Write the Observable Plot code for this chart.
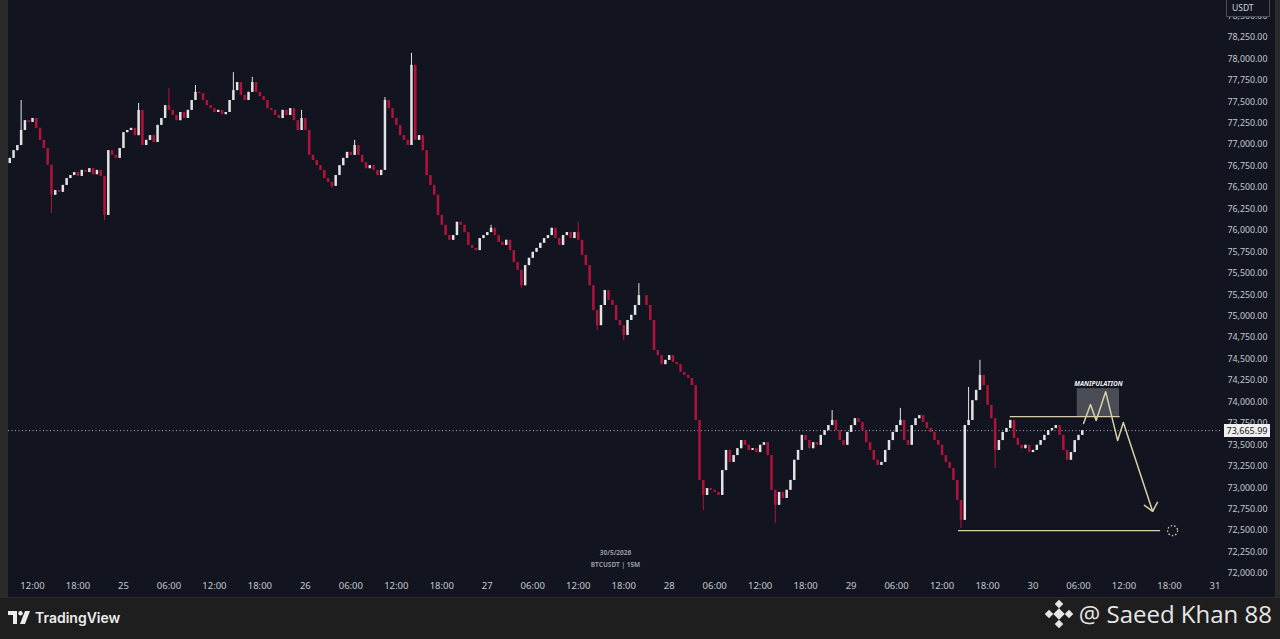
<!DOCTYPE html>
<html>
<head>
<meta charset="utf-8">
<script src="https://cdn.jsdelivr.net/npm/d3@7"></script>
<script src="https://cdn.jsdelivr.net/npm/@observablehq/plot@0.6"></script>
<style>
  html, body { margin: 0; padding: 0; background: #1e1e1e; width: 1280px; height: 639px; overflow: hidden; }
  #frame { position: absolute; left: 0; top: 0; width: 1280px; height: 598px; background: #2a2a2a; }
  #chart { position: absolute; left: 8px; top: 0; width: 1267px; height: 597px; background: #121520; }
  #chart svg { display: block; }
  #usdt { position: absolute; z-index: 2; left: 1226px; top: -1px; width: 44px; height: 18px; border: 1px solid #4a4d55; border-top: none;
          background: #121520; color: #d1d4dc; font: 8.5px "Noto Sans", sans-serif; line-height: 17px; padding-left: 5px; box-sizing: border-box; }
  #last { position: absolute; z-index: 2; left: 1224px; width: 46px; height: 13px; background: #eeeeee; color: #131722;
          font: 9px "Noto Sans", sans-serif; line-height: 13px; text-align: center; }
  #tv { position: absolute; left: 8px; top: 609px; display: flex; align-items: center; gap: 5px;
        color: #ececec; font: 600 14px "Inter", "Noto Sans", sans-serif; }
  #sig { position: absolute; right: 8px; top: 597px; display: flex; align-items: center; gap: 5px;
         color: #e6e6e6; font: 24px "Open Sans", sans-serif; }
</style>
</head>
<body>
<div id="frame"></div>
<div id="chart"></div>
<div id="tv">
  <svg width="22" height="13" viewBox="0 0 22 13"><path d="M0 0H9V13H5V4H0Z" fill="#ececec"/><circle cx="12.5" cy="2.2" r="2.2" fill="#ececec"/><path d="M17 0H22L17 13H12Z" fill="#ececec"/></svg>
  <span>TradingView</span>
</div>
<div id="sig">
  <svg width="30" height="30" viewBox="-15 -15 30 30" fill="#e6e6e6">
    <rect x="-4" y="-4" width="8" height="8" transform="rotate(45)"/>
    <rect x="-3" y="-3" width="6" height="6" transform="translate(0,-10) rotate(45)"/>
    <rect x="-3" y="-3" width="6" height="6" transform="translate(0,10) rotate(45)"/>
    <rect x="-3" y="-3" width="6" height="6" transform="translate(-10,0) rotate(45)"/>
    <rect x="-3" y="-3" width="6" height="6" transform="translate(10,0) rotate(45)"/>
  </svg>
  <span>@ Saeed Khan 88</span>
</div>
<script>
// BTCUSDT, 30-minute closes, from 24 May 09:00 (UTC) on
const firstOpen = 76780
const closes = [
  // 24
  76840, 76930, 76990, 77165, 77280, 77260, 77305, 77190, 77050, 76955,
  76760, 76410, 76465, 76445, 76525, 76605, 76640, 76675, 76630, 76700,
  76675, 76720, 76650, 76700, 76630, 76175, 76930, 76875, 76840, 76955,
  // 25
  77140, 77165, 77190, 77105, 77400, 76990, 77050, 77105, 77025, 77225,
  77305, 77455, 77400, 77340, 77280, 77375, 77305, 77400, 77515, 77610,
  77595, 77515, 77455, 77420, 77375, 77400, 77350, 77375, 77515, 77630,
  77725, 77575, 77515, 77610, 77725, 77610, 77560, 77515, 77420, 77400,
  77340, 77305, 77400, 77340, 77420, 77280, 77165, 77305,
  // 26
  77165, 76875, 76815, 76755, 76700, 76605, 76560, 76515, 76640, 76755,
  76840, 76910, 76875, 76990, 76875, 76790, 76720, 76755, 76700, 76640,
  76700, 77515, 77420, 77305, 77225, 77105, 77050, 76990, 77925, 77050,
  77105, 76930, 76640, 76525, 76410, 76175, 76060, 75940, 75885, 75940,
  76095, 76060, 75975, 75825, 75790, 75765, 75905, 75940,
  // 27
  75975, 76025, 75940, 75860, 75825, 75885, 75765, 75625, 75535, 75355,
  75590, 75675, 75745, 75790, 75850, 75905, 75940, 76025, 75905, 75825,
  75940, 75975, 75905, 75975, 75885, 75710, 75590, 75355, 75065, 74890,
  75125, 75300, 75185, 75125, 74950, 74890, 74775, 74950, 75010, 75125,
  75240, 75240, 75125, 74950, 74600, 74540, 74435, 74485,
  // 28
  74540, 74460, 74435, 74345, 74310, 74275, 74190, 73785, 73085, 72910,
  72990, 72970, 72945, 72910, 73200, 73435, 73295, 73375, 73455, 73550,
  73495, 73435, 73455, 73410, 73495, 73525, 73375, 72970, 72795, 72945,
  72875, 72970, 73085, 73320, 73435, 73610, 73550, 73455, 73525, 73495,
  73610, 73665, 73725, 73785, 73665, 73550, 73495, 73645,
  // 29
  73725, 73805, 73760, 73665, 73525, 73435, 73320, 73260, 73295, 73435,
  73550, 73645, 73725, 73785, 73550, 73495, 73725, 73805, 73840, 73760,
  73690, 73645, 73550, 73495, 73375, 73295, 73225, 73085, 72850, 72620,
  73725, 73785, 74015, 74135, 74310, 74190, 73960, 73805, 73435, 73550,
  73645, 73690, 73785, 73575, 73495, 73455, 73495, 73410,
  // 30
  73435, 73495, 73550, 73610, 73665, 73690, 73725, 73610, 73435, 73320,
  73410, 73550, 73610, 73665.99
]
// long wicks (candle index, extreme price)
const spikeIndex = [3, 11, 25, 34, 42, 49, 59, 64, 77, 85, 91, 99, 106, 127, 135, 150, 155, 162, 166, 183, 202, 217, 235, 251, 253, 256, 260]
const spikePrice = [77515, 76200, 76115, 77480, 77655, 77690, 77840, 77785, 77400, 76490, 77050, 77550, 78065, 76060, 75325, 76095, 74835, 74715, 75380, 72735, 72585, 73900, 73925, 72525, 74170, 74485, 73225]

const lastPrice = 73665.99
const priceTicks = d3.range(72000, 78501, 250)

// drawing on the chart
const levelTime = ['2026-05-29T21:00', '2026-05-30T11:30']
const levelPrice = 73830
const boxTime = ['2026-05-30T05:50', '2026-05-30T11:25']
const boxPrice = [73830, 74155]
const pathTime = ['2026-05-30T06:40', '2026-05-30T07:35', '2026-05-30T08:20', '2026-05-30T09:35', '2026-05-30T11:10', '2026-05-30T11:55', '2026-05-30T15:47']
const pathPrice = [73750, 73970, 73785, 74120, 73550, 73760, 72725]
const arrowTime = ['2026-05-30T14:42', '2026-05-30T15:47', '2026-05-30T16:25']
const arrowPrice = [72795, 72725, 72830]
const lowTime = ['2026-05-29T14:10', '2026-05-30T16:50']
const lowPrice = 72500
const targetTime = '2026-05-30T18:25'

const utc = s => new Date(s + 'Z')
const start = Date.UTC(2026, 4, 24, 9, 0)
const bull = '#e3e3e3', bear = '#b3123a', tan = '#d8cfaa'

const candles = closes.map((c, i) => {
  const open = i === 0 ? firstOpen : closes[i - 1]
  let hi = Math.max(open, c), lo = Math.min(open, c)
  const k = spikeIndex.indexOf(i)
  if (k >= 0) { hi = Math.max(hi, spikePrice[k]); lo = Math.min(lo, spikePrice[k]) }
  return { t: new Date(start + i * 1800000), open, close: c, hi, lo }
})
const col = d => d.close >= d.open ? bull : bear

const timeTicks = d3.utcHours(utc('2026-05-24T12:00'), utc('2026-05-31T00:01'), 6)
const fmtTime = d => d.getUTCHours() === 0 ? String(d.getUTCDate()) : d3.utcFormat('%H:%M')(d)

const chart = Plot.plot({
  width: 1267,
  height: 597,
  marginLeft: 0,
  marginRight: 53,
  marginTop: 0,
  marginBottom: 21,
  style: { background: 'transparent', color: '#c4c7cf', fontFamily: 'Noto Sans, sans-serif' },
  x: { type: 'utc', domain: [utc('2026-05-24T08:50'), utc('2026-05-31T01:00')] },
  y: { domain: [71965, 78681] },
  marks: [
    Plot.axisX({ ticks: timeTicks, tickFormat: fmtTime, tickSize: 0, tickPadding: 6, fontSize: 9.5, label: null }),
    Plot.axisY({ anchor: 'right', ticks: priceTicks, tickFormat: d3.format(',.2f'), tickSize: 0, tickPadding: 5, fontSize: 8.8, label: null }),
    Plot.text(['30/5/2026'], { frameAnchor: 'bottom', dy: -22, text: d => d, fontSize: 6.5, fontWeight: 'bold', fill: '#b8bbc2', fillOpacity: 0.8 }),
    Plot.text(['BTCUSDT | 15M'], { frameAnchor: 'bottom', dy: -10, text: d => d, fontSize: 6.5, fontWeight: 'bold', fill: '#b8bbc2', fillOpacity: 0.8 }),
    Plot.ruleY([lastPrice], { stroke: '#a5a8b0', strokeDasharray: '1,2.5', strokeWidth: 1 }),
    Plot.ruleX(candles, { x: 't', y1: 'lo', y2: 'hi', stroke: col, strokeWidth: 1 }),
    Plot.ruleX(candles, { x: 't', y1: 'open', y2: 'close', stroke: col, strokeWidth: 2.5 }),
    Plot.rect([0], { x1: () => utc(boxTime[0]), x2: () => utc(boxTime[1]), y1: () => boxPrice[0], y2: () => boxPrice[1], fill: '#70737c', fillOpacity: 0.6 }),
    Plot.ruleY([levelPrice], { x1: () => utc(levelTime[0]), x2: () => utc(levelTime[1]), stroke: tan, strokeWidth: 1.3 }),
    Plot.ruleY([lowPrice], { x1: () => utc(lowTime[0]), x2: () => utc(lowTime[1]), stroke: tan, strokeWidth: 1.3 }),
    Plot.line(pathTime.map((t, i) => ({ t: utc(t), p: pathPrice[i] })), { x: 't', y: 'p', stroke: tan, strokeWidth: 1.5 }),
    Plot.line(arrowTime.map((t, i) => ({ t: utc(t), p: arrowPrice[i] })), { x: 't', y: 'p', stroke: tan, strokeWidth: 1.5 }),
    Plot.dot([0], { x: () => utc(targetTime), y: () => lowPrice, r: 5, stroke: tan, strokeWidth: 1.3, strokeDasharray: '1.5,2', fill: 'none' }),
    Plot.text(['MANIPULATION'], { x: () => utc('2026-05-30T08:38'), y: () => 74215, text: d => d, fontSize: 6.5, fontWeight: 'bold', fontStyle: 'italic', fill: '#f0f0f0' })
  ]
})
document.getElementById('chart').append(chart)

const usdt = document.createElement('div')
usdt.id = 'usdt'
usdt.textContent = 'USDT'
document.body.append(usdt)

const last = document.createElement('div')
last.id = 'last'
last.textContent = d3.format(',.2f')(lastPrice)
last.style.top = (chart.scale('y').apply(lastPrice) - 6.5) + 'px'
document.body.append(last)
</script>
</body>
</html>
